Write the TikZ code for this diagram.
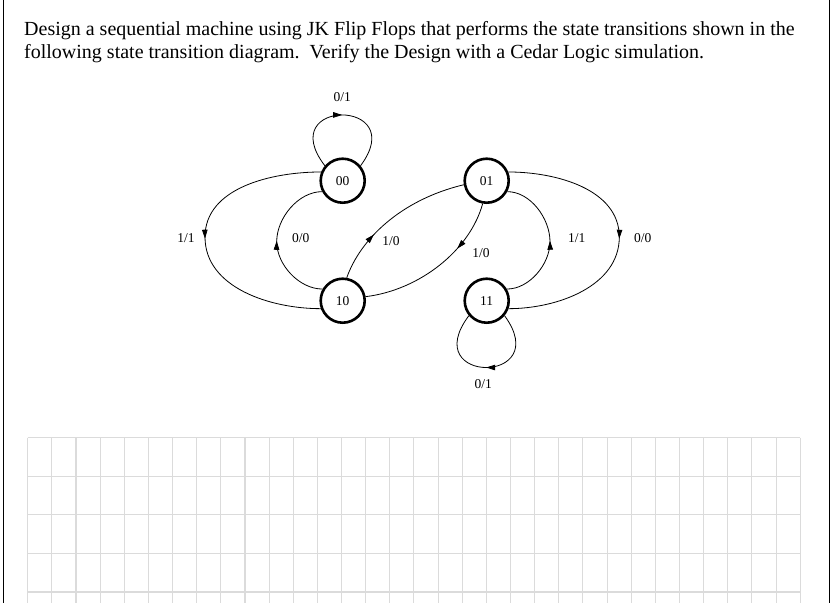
\documentclass[tikz,border=0pt]{standalone}
\usepackage{fontspec}
\setmainfont{Liberation Serif}
\usetikzlibrary{arrows.meta,decorations.markings}
\begin{document}
\begin{tikzpicture}[x=1pt,y=-1pt,
  st/.style={circle,draw,line width=2.6pt,minimum size=44pt,inner sep=0pt,font=\fontsize{13.5}{15}\selectfont},
  lbl/.style={font=\fontsize{13.5}{15}\selectfont,inner sep=0pt},
  tr/.style={line width=0.8pt,postaction={decorate},decoration={markings,mark=at position #1 with {\arrow{Triangle[length=9pt,width=5.5pt]}}}},
  gridl/.style={draw=black!14,line width=1.1pt}]
\useasboundingbox (0,0) rectangle (832,603);
\fill[white] (0,0) rectangle (832,603);
\draw[line width=1pt] (3,0) -- (3,603);
\draw[line width=1pt] (829,0) -- (829,603);
% grid
\foreach \k in {0,...,32} {\draw[gridl] (27.7+\k*24.14,437.6) -- (27.7+\k*24.14,603);}
\foreach \r in {0,...,4} {\draw[gridl] (27.7,437.6+\r*38.6) -- (800,437.6+\r*38.6);}
% title
\node[anchor=base west,inner sep=0pt,font=\fontsize{20}{23}\selectfont] (t1) at (24,35) {Design a sequential machine using JK Flip Flops that performs the state transitions shown in the};
\node[anchor=base west,inner sep=0pt,font=\fontsize{20}{23}\selectfont] (t2) at (24,58) {following state transition diagram.\ \ Verify the Design with a Cedar Logic simulation.};
% states
\node[st] (n00) at (342.7,180.7) {00};
\node[st] (n01) at (486.7,180.7) {01};
\node[st] (n10) at (342.7,300.7) {10};
\node[st] (n11) at (486.7,300.7) {11};
% self loops
\draw[tr=0.5] (n00.140) .. controls (273,98) and (411,98) .. (n00.40);
\draw[tr=0.5] (n11.-40) .. controls (555,384.8) and (417,384.8) .. (n11.-140);
% left pair
\coordinate (cl1) at (205,237);
\coordinate (cl2) at (276.7,241.7);
\draw[tr=0.5] (n00.158) to[out=180,in=90,looseness=0.95] (cl1) to[out=-90,in=180,looseness=0.95] (n10.200);
\draw[tr=0.5] (n10.150) to[out=180,in=-90,looseness=0.9] (cl2) to[out=90,in=180,looseness=0.9] (n00.208);
% right pair
\coordinate (cr1) at (619.3,237);
\coordinate (cr2) at (550,241.7);
\draw[tr=0.5] (n01.22) to[out=0,in=90,looseness=0.95] (cr1) to[out=-90,in=0,looseness=0.95] (n11.-20);
\draw[tr=0.5] (n11.30) to[out=0,in=-90,looseness=0.9] (cr2) to[out=90,in=0,looseness=0.9] (n01.-28);
% diagonals
\draw[tr=0.33] (n10.80) .. controls (360,240) and (400,200) .. (n01.190);
\draw[tr=0.33] (n01.-100) .. controls (470,250) and (420,290) .. (n10.10);
% labels
\node[lbl] (l1) at (342.3,96.7) {0/1};
\node[lbl] (l2) at (186,238.3) {1/1};
\node[lbl] (l3) at (300.7,238.3) {0/0};
\node[lbl] (l4) at (391,240.7) {1/0};
\node[lbl] (l5) at (481,252.7) {1/0};
\node[lbl] (l6) at (576.7,238.3) {1/1};
\node[lbl] (l7) at (642.7,238.3) {0/0};
\node[lbl] (l8) at (483.3,384) {0/1};
\end{tikzpicture}
\end{document}
